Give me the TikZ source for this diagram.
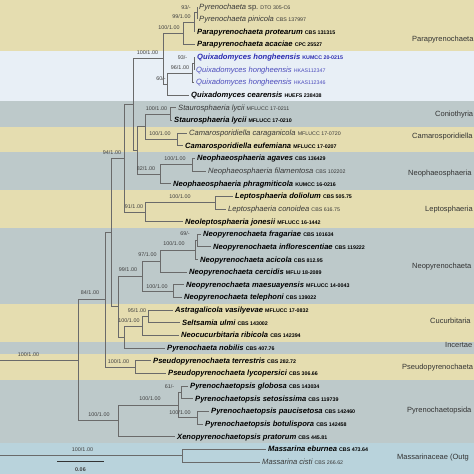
\documentclass[tikz,border=0pt]{standalone}
\usepackage{fontspec}
\setmainfont{Liberation Sans}
\usetikzlibrary{positioning}
\definecolor{ctan}{HTML}{E5DDB0}
\definecolor{cquix}{HTML}{E8EFF6}
\definecolor{cgrey}{HTML}{BDC9CA}
\definecolor{coutg}{HTML}{B9D3DC}
\definecolor{cbranch}{HTML}{6A6A6A}
\definecolor{cqblue}{HTML}{2B2BB0}
\newcommand{\strn}[1]{\ {\upshape\fontsize{5.3}{6}\selectfont #1}}

\begin{document}
\begin{tikzpicture}[x=1pt, y=-1pt,
  taxon/.style={anchor=west, inner sep=2pt, text height=5.6pt, text depth=0.6pt,
    font=\fontsize{7.6}{8}\selectfont\itshape, text=black!78},
  btaxon/.style={taxon, font=\fontsize{7.6}{8}\selectfont\bfseries\itshape, text=black},
  qtaxon/.style={taxon, text=cqblue!85},
  qbtaxon/.style={btaxon, text=cqblue},
  branch/.style={draw=cbranch, line width=0.8pt},
  boot/.style={font=\fontsize{5.4}{6}\selectfont, text=black!75, inner sep=0pt},
  family/.style={anchor=west, inner sep=0pt, font=\fontsize{7.5}{9}\selectfont, text=black!80},
]
\useasboundingbox (0,0) rectangle (474,474);

% ---------- family bands ----------
\foreach \ya/\yb/\c in {0/50.8/ctan, 50.8/101.4/cquix, 101.4/126.7/cgrey, 126.7/152/ctan,
  152/189.9/cgrey, 189.9/227.8/ctan, 227.8/303.7/cgrey, 303.7/341.7/ctan, 341.7/354.3/cgrey,
  354.3/379.6/ctan, 379.6/442.9/cgrey, 442.9/474/coutg}
  \fill[\c] (0,\ya) rectangle (474,\yb);

% ---------- taxa ----------
\foreach \i/\x/\s/\nm/\c in {
  1/197/taxon/{Pyrenochaeta \upshape sp.}/{DTO 305-C6},
  2/197/taxon/Pyrenochaeta pinicola/CBS 137997,
  3/195/btaxon/Parapyrenochaeta protearum/CBS 131315,
  4/195/btaxon/Parapyrenochaeta acaciae/CPC 25527,
  5/195/qbtaxon/Quixadomyces hongheensis/KUMCC 20-0215,
  6/194/qtaxon/Quixadomyces hongheensis/HKAS112347,
  7/194/qtaxon/Quixadomyces hongheensis/HKAS112346,
  8/189/btaxon/Quixadomyces cearensis/HUEFS 238438,
  9/176/taxon/Staurosphaeria lycii/MFLUCC 17-0211,
  10/172/btaxon/Staurosphaeria lycii/MFLUCC 17-0210,
  11/187/taxon/Camarosporidiella caraganicola/MFLUCC 17-0720,
  12/183/btaxon/Camarosporidiella eufemiana/MFLUCC 17-0207,
  13/195/btaxon/Neophaeosphaeria agaves/CBS 136429,
  14/206/taxon/Neophaeosphaeria filamentosa/CBS 102202,
  15/171/btaxon/Neophaeosphaeria phragmiticola/KUMCC 16-0216,
  16/233/btaxon/Leptosphaeria doliolum/CBS 505.75,
  17/226/taxon/Leptosphaeria conoidea/CBS 616.75,
  18/183/btaxon/Neoleptosphaeria jonesii/MFLUCC 16-1442,
  19/201/btaxon/Neopyrenochaeta fragariae/CBS 101634,
  20/211/btaxon/Neopyrenochaeta inflorescentiae/CBS 119222,
  21/198/btaxon/Neopyrenochaeta acicola/CBS 812.95,
  22/187/btaxon/Neopyrenochaeta cercidis/MFLU 18-2089,
  23/184/btaxon/Neopyrenochaeta maesuayensis/MFLUCC 14-0043,
  24/182/btaxon/Neopyrenochaeta telephoni/CBS 139022,
  25/173/btaxon/Astragalicola vasilyevae/MFLUCC 17-0832,
  26/180/btaxon/Seltsamia ulmi/CBS 143002,
  27/179/btaxon/Neocucurbitaria ribicola/CBS 142394,
  28/165/btaxon/Pyrenochaeta nobilis/CBS 407.76,
  29/151/btaxon/Pseudopyrenochaeta terrestris/CBS 282.72,
  30/166/btaxon/Pseudopyrenochaeta lycopersici/CBS 306.66,
  31/188/btaxon/Pyrenochaetopsis globosa/CBS 143034,
  32/193/btaxon/Pyrenochaetopsis setosissima/CBS 119739,
  33/209/btaxon/Pyrenochaetopsis paucisetosa/CBS 142460,
  34/203/btaxon/Pyrenochaetopsis botulispora/CBS 142458,
  35/175/btaxon/Xenopyrenochaetopsis pratorum/CBS 445.81,
  36/266/btaxon/Massarina eburnea/CBS 473.64,
  37/260/taxon/Massarina cisti/CBS 266.62}
  \node[\s] (t\i) at (\x,{6.5+12.65*(\i-1)}) {\nm\strn{\c}};

% ---------- internal nodes ----------
\foreach \n/\x/\y in {P3/197/12.8, P2/194/22.3, P1/183/33.4, Q2/194/63.4, Q1/192/72.9,
  Q/167/84.0, PQ/163/58.7, Stau/170/114.0, Cam/177/139.3, SC/145/126.7, NA/192/164.6,
  Neo/160/174.1, F/137/150.4, E/133/104.6, Lep/215/202.6, G/145/212.1, D/124/158.3,
  N/197/240.5, M/195/250.0, L/160/261.1, O/173/291.1, K/142/276.1, AS/148/316.4,
  J/142/325.9, I/124/337.0, H/118/306.5, C/111/232.4, R/135/367.0, B/105/299.7,
  U/181/392.3, V/197/417.6, T/178/405.0, S/118/420.8, A/78/360.3, MA/182/455.6, root/-3/408}
  \coordinate (\n) at (\x,\y);

% ---------- branches ----------
\foreach \a/\b in {P3/t1, P3/t2, P2/t3, P1/t4, Q2/t5, Q2/t6, Q1/t7, Q/t8, Stau/t9, Stau/t10,
  Cam/t11, Cam/t12, NA/t13, NA/t14, Neo/t15, Lep/t16, Lep/t17, G/t18, N/t19, N/t20, M/t21,
  L/t22, O/t23, O/t24, AS/t25, AS/t26, J/t27, I/t28, R/t29, R/t30, U/t31, U/t32, V/t33,
  V/t34, S/t35, MA/t36, MA/t37}
  \draw[branch] (\a) |- (\b.west);
\foreach \a/\b in {P2/P3, P1/P2, Q1/Q2, Q/Q1, PQ/P1, PQ/Q, SC/Stau, SC/Cam, Neo/NA, F/SC,
  F/Neo, E/PQ, E/F, G/Lep, D/E, D/G, M/N, L/M, K/L, K/O, J/AS, I/J, H/K, H/I, C/D, C/H,
  B/C, B/R, T/U, T/V, S/T, A/B, A/S, root/A, root/MA}
  \draw[branch] (\a) |- (\b);

% ---------- support values ----------
\foreach \n/\x/\y/\v in {P3/186/8/{93/-}, P2/181.5/17/{99/1.00}, P1/169/28/{100/1.00},
  PQ/147.5/53/{100/1.00}, Q2/182.5/57.5/{93/-}, Q1/180/68/{96/1.00}, Q/161/78.5/{60/-},
  Stau/156.5/108.5/{100/1.00}, Cam/160/134/{100/1.00}, NA/175/159/{100/1.00},
  Neo/146/168.5/{82/1.00}, Lep/180/197/{100/1.00}, G/134/206.5/{91/1.00},
  D/112/152.5/{94/1.00}, N/185/233.5/{69/-}, M/174/244/{100/1.00}, L/147.5/254.5/{97/1.00},
  K/128/270/{99/1.00}, O/157/287/{100/1.00}, AS/137/311/{95/1.00}, J/129/320.5/{100/1.00},
  B/90/293/{84/1.00}, R/118.5/362/{100/1.00}, A/28.5/354.5/{100/1.00}, S/99/415/{100/1.00},
  T/150/399/{100/1.00}, U/169.5/387/{61/-}, V/180/413/{100/1.00}, MA/82.5/450/{100/1.00}}
  \node[boot] (bs\n) at (\x,\y) {\v};

% ---------- family names ----------
\node[family] (fPara) at (412,40) {Parapyrenochaeta};
\node[family] (fConi) at (435,115) {Coniothyria};
\node[family] (fCama) at (412,137) {Camarosporidiella};
\node[family] (fNeoph) at (408,174) {Neophaeosphaeria};
\node[family] (fLept) at (425,210) {Leptosphaeria};
\node[family] (fNeopy) at (412,267) {Neopyrenochaeta};
\node[family] (fCucu) at (430,321) {Cucurbitaria};
\node[family] (fInce) at (445,345) {Incertae};
\node[family] (fPseu) at (402,368) {Pseudopyrenochaeta};
\node[family] (fPyre) at (407,411) {Pyrenochaetopsida};
\node[family] (fMass) at (397,458) {Massarinaceae (Outg};

% ---------- scale bar ----------
\coordinate (sbL) at (57,461);
\coordinate (sbR) at (104,461);
\draw[branch, draw=black!80] (sbL) -- (sbR);
\node[boot, font=\fontsize{5.4}{6}\selectfont\bfseries] (sbtxt) at (80.5,470) {0.06};
\end{tikzpicture}
\end{document}
